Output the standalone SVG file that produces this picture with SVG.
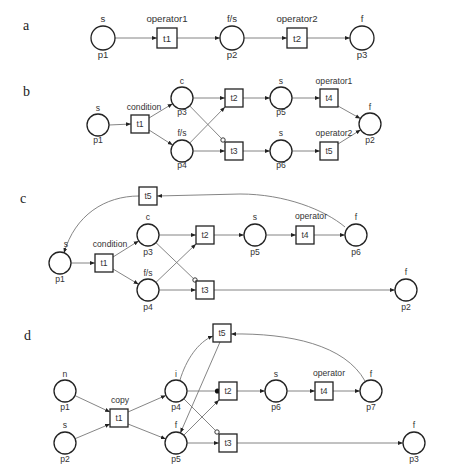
<svg xmlns="http://www.w3.org/2000/svg" width="474" height="474" viewBox="0 0 474 474">
<style>
.pl{fill:#fff;stroke:#222;stroke-width:1.3}
.tr{fill:#fff;stroke:#222;stroke-width:1.3}
.t{font-family:"Liberation Sans",Arial,sans-serif;font-size:8.6px;fill:#333;text-anchor:middle}
.ta{font-size:9.6px}
.lt{font-family:"Liberation Serif","Times New Roman",serif;font-size:14px;fill:#222}
.e{fill:none;stroke:#777;stroke-width:0.9;marker-end:url(#ah)}
.en{fill:none;stroke:#777;stroke-width:0.9}
.inh{fill:#fff;stroke:#222;stroke-width:0.9}
</style>
<defs>
<marker id="ah" viewBox="0 0 6 6" refX="6" refY="3" markerWidth="5" markerHeight="5" orient="auto" markerUnits="userSpaceOnUse"><path d="M0,0.6 L6,3 L0,5.4 z" fill="#222"/></marker>
</defs>
<rect width="474" height="474" fill="#fff"/>
<text class="lt" x="23" y="30">a</text>
<text class="lt" x="23" y="96">b</text>
<text class="lt" x="20" y="203">c</text>
<text class="lt" x="24" y="340">d</text>

<g id="connectors">
<!-- a -->
<path class="e" d="M115,38 L157,38"/>
<path class="e" d="M177,38 L220,38"/>
<path class="e" d="M244,38 L287,38"/>
<path class="e" d="M307,38 L350,38"/>
<!-- b -->
<path class="e" d="M109,125 L131,124"/>
<path class="e" d="M149,118 L172.6,103.7"/>
<path class="e" d="M149,130 L172.7,145.1"/>
<path class="e" d="M193,98 L225,98"/>
<path class="e" d="M193,151 L225,151"/>
<path class="e" d="M189.7,143.1 L225,107"/>
<path class="en" d="M189.7,105.9 L221.5,138.5"/>
<path class="e" d="M243,98 L270,98"/>
<path class="e" d="M243,151 L270,151"/>
<path class="e" d="M292,98 L320,98"/>
<path class="e" d="M292,151 L320,151"/>
<path class="e" d="M338,106 L360.4,118.6"/>
<path class="e" d="M338,144 L360.7,129.8"/>
<!-- c -->
<path class="e" d="M345,227 C325,210 285,194 240,194 L157,196"/>
<path class="e" d="M139,196 C105,196 75,215 64,253"/>
<path class="e" d="M71,263 L95,263"/>
<path class="e" d="M113,257 L138.7,240.9"/>
<path class="e" d="M113,269 L138.6,284.3"/>
<path class="e" d="M159,235 L196,235"/>
<path class="e" d="M159,290 L196,290"/>
<path class="e" d="M155.9,282.4 L196,244"/>
<path class="en" d="M155.9,242.6 L193.4,278.5"/>
<path class="e" d="M214,235 L244,235"/>
<path class="e" d="M266,235 L296,235"/>
<path class="e" d="M314,235 L345,235"/>
<path class="e" d="M214,290 L395,290"/>
<!-- d -->
<path class="e" d="M75,395.6 L110,412"/>
<path class="e" d="M75.1,438.7 L110,424"/>
<path class="e" d="M128,412 L165.9,395.4"/>
<path class="e" d="M128,424 L165.8,439"/>
<path class="en" d="M187,391 L216,391"/>
<path class="e" d="M187,443 L219,443"/>
<path class="e" d="M183.8,435.2 L219,400"/>
<path class="en" d="M183.8,398.8 L215.4,430.4"/>
<path class="e" d="M180,380 C186,360 198,342 213,336"/>
<path class="e" d="M220,342 L180.4,432.9"/>
<path class="e" d="M365,381 C345,345 290,333 231,334"/>
<path class="e" d="M237,391 L265,391"/>
<path class="e" d="M287,391 L315,391"/>
<path class="e" d="M333,391 L360,391"/>
<path class="e" d="M237,443 L403,443"/>
<!-- arc decorations -->
<circle class="inh" cx="223" cy="140" r="2.2"/>
<circle class="inh" cx="195" cy="280" r="2.2"/>
<circle class="inh" cx="217" cy="432" r="2.2"/>
<circle cx="217.5" cy="391" r="2.6" fill="#111"/>
</g>

<!-- panel a -->
<g id="a-p1"><circle class="pl" cx="103" cy="38" r="12"/><text class="t ta" x="103" y="22">s</text><text class="t ta" x="103" y="58">p1</text></g>
<g id="a-t1"><rect class="tr" x="157" y="28" width="20" height="20"/><text class="t ta" x="167" y="42">t1</text><text class="t ta" x="167" y="22">operator1</text></g>
<g id="a-p2"><circle class="pl" cx="232" cy="38" r="12"/><text class="t ta" x="232" y="22">f/s</text><text class="t ta" x="232" y="58">p2</text></g>
<g id="a-t2"><rect class="tr" x="287" y="28" width="20" height="20"/><text class="t ta" x="297" y="42">t2</text><text class="t ta" x="297" y="22">operator2</text></g>
<g id="a-p3"><circle class="pl" cx="362" cy="38" r="12"/><text class="t ta" x="362" y="22">f</text><text class="t ta" x="362" y="58">p3</text></g>

<!-- panel b -->
<g id="b-p1"><circle class="pl" cx="98" cy="125" r="11"/><text class="t" x="98" y="111">s</text><text class="t" x="98" y="143">p1</text></g>
<g id="b-t1"><rect class="tr" x="131" y="115" width="18" height="18"/><text class="t" x="140" y="127">t1</text><text class="t" x="144" y="110">condition</text></g>
<g id="b-p3"><circle class="pl" cx="182" cy="98" r="11"/><text class="t" x="182" y="84">c</text><text class="t" x="182" y="115">p3</text></g>
<g id="b-p4"><circle class="pl" cx="182" cy="151" r="11"/><text class="t" x="182" y="136">f/s</text><text class="t" x="182" y="168">p4</text></g>
<g id="b-t2"><rect class="tr" x="225" y="89" width="18" height="18"/><text class="t" x="234" y="101">t2</text></g>
<g id="b-t3"><rect class="tr" x="225" y="142" width="18" height="18"/><text class="t" x="234" y="154">t3</text></g>
<g id="b-p5"><circle class="pl" cx="281" cy="98" r="11"/><text class="t" x="281" y="84">s</text><text class="t" x="281" y="115">p5</text></g>
<g id="b-p6"><circle class="pl" cx="281" cy="151" r="11"/><text class="t" x="281" y="136">s</text><text class="t" x="281" y="168">p6</text></g>
<g id="b-t4"><rect class="tr" x="320" y="89" width="18" height="18"/><text class="t" x="329" y="101">t4</text><text class="t" x="334" y="84">operator1</text></g>
<g id="b-t5"><rect class="tr" x="320" y="142" width="18" height="18"/><text class="t" x="329" y="154">t5</text><text class="t" x="334" y="136">operator2</text></g>
<g id="b-p2"><circle class="pl" cx="370" cy="124" r="11"/><text class="t" x="370" y="110">f</text><text class="t" x="370" y="143">p2</text></g>

<!-- panel c -->
<g id="c-t5"><rect class="tr" x="139" y="187" width="18" height="18"/><text class="t" x="148" y="199">t5</text></g>
<g id="c-p1"><circle class="pl" cx="60" cy="263" r="11"/><text class="t" x="66" y="247">s</text><text class="t" x="60" y="282">p1</text></g>
<g id="c-t1"><rect class="tr" x="95" y="254" width="18" height="18"/><text class="t" x="104" y="266">t1</text><text class="t" x="110" y="247">condition</text></g>
<g id="c-p3"><circle class="pl" cx="148" cy="235" r="11"/><text class="t" x="148" y="220">c</text><text class="t" x="148" y="255">p3</text></g>
<g id="c-p4"><circle class="pl" cx="148" cy="290" r="11"/><text class="t" x="148" y="276">f/s</text><text class="t" x="148" y="310">p4</text></g>
<g id="c-t2"><rect class="tr" x="196" y="226" width="18" height="18"/><text class="t" x="205" y="238">t2</text></g>
<g id="c-t3"><rect class="tr" x="196" y="281" width="18" height="18"/><text class="t" x="205" y="293">t3</text></g>
<g id="c-p5"><circle class="pl" cx="255" cy="235" r="11"/><text class="t" x="255" y="220">s</text><text class="t" x="255" y="255">p5</text></g>
<g id="c-t4"><rect class="tr" x="296" y="226" width="18" height="18"/><text class="t" x="305" y="238">t4</text><text class="t" x="311" y="219">operator</text></g>
<g id="c-p6"><circle class="pl" cx="356" cy="235" r="11"/><text class="t" x="356" y="220">f</text><text class="t" x="356" y="255">p6</text></g>
<g id="c-p2"><circle class="pl" cx="406" cy="290" r="11"/><text class="t" x="406" y="275">f</text><text class="t" x="406" y="310">p2</text></g>

<!-- panel d -->
<g id="d-t5"><rect class="tr" x="213" y="324" width="18" height="18"/><text class="t" x="222" y="336">t5</text></g>
<g id="d-p1"><circle class="pl" cx="65" cy="391" r="11"/><text class="t" x="65" y="377">n</text><text class="t" x="65" y="410">p1</text></g>
<g id="d-p2"><circle class="pl" cx="65" cy="443" r="11"/><text class="t" x="65" y="428">s</text><text class="t" x="65" y="462">p2</text></g>
<g id="d-t1"><rect class="tr" x="110" y="409" width="18" height="18"/><text class="t" x="119" y="421">t1</text><text class="t" x="120" y="403">copy</text></g>
<g id="d-p4"><circle class="pl" cx="176" cy="391" r="11"/><text class="t" x="176" y="377">i</text><text class="t" x="176" y="410">p4</text></g>
<g id="d-p5"><circle class="pl" cx="176" cy="443" r="11"/><text class="t" x="176" y="428">f</text><text class="t" x="176" y="462">p5</text></g>
<g id="d-t2"><rect class="tr" x="219" y="382" width="18" height="18"/><text class="t" x="228" y="394">t2</text></g>
<g id="d-t3"><rect class="tr" x="219" y="434" width="18" height="18"/><text class="t" x="228" y="446">t3</text></g>
<g id="d-p6"><circle class="pl" cx="276" cy="391" r="11"/><text class="t" x="276" y="377">s</text><text class="t" x="276" y="410">p6</text></g>
<g id="d-t4"><rect class="tr" x="315" y="382" width="18" height="18"/><text class="t" x="324" y="394">t4</text><text class="t" x="329" y="376">operator</text></g>
<g id="d-p7"><circle class="pl" cx="371" cy="391" r="11"/><text class="t" x="371" y="377">f</text><text class="t" x="371" y="410">p7</text></g>
<g id="d-p3"><circle class="pl" cx="414" cy="443" r="11"/><text class="t" x="414" y="428">f</text><text class="t" x="414" y="462">p3</text></g>
</svg>
